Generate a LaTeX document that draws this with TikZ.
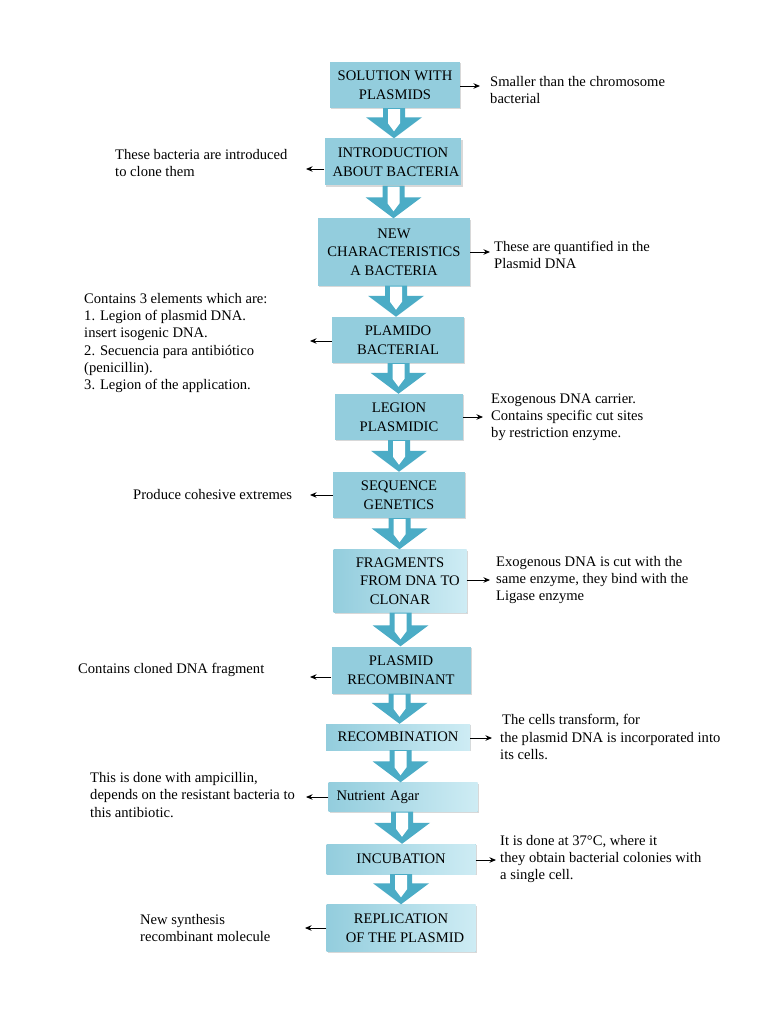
\documentclass[tikz,border=0pt]{standalone}
\usepackage{fontspec}
\setmainfont{Liberation Serif}
\usetikzlibrary{arrows, arrows.meta, calc, shadows}
\definecolor{boxblue}{RGB}{147,205,221}
\definecolor{boxlight}{RGB}{206,236,244}
\definecolor{arrowblue}{RGB}{75,172,198}
\tikzstyle{stage} = [rectangle, fill=boxblue, draw=none, align=center, inner sep=2pt, font=\fontsize{14.6}{18.5}\selectfont, drop shadow={shadow xshift=1.2pt, shadow yshift=-1.2pt, opacity=0.3}]
\tikzstyle{glossy} = [stage, left color=boxblue, right color=boxlight]
\tikzstyle{note} = [inner sep=0pt, align=left, anchor=west, font=\fontsize{14.6}{17.2}\selectfont]
\tikzstyle{sidearrow} = [-{Stealth[length=6.5pt, width=5.5pt]}, line width=0.9pt]
\newcommand{\flowarrow}[2]{%
  \fill[arrowblue] let \p1=(#1.south), \p2=(#2.north), \p3=($(#1.south)!0.5!(#2.north)$) in
    ({\x3-11pt},\y1) -- ({\x3+11pt},\y1) -- ({\x3+11pt},\y2+21pt) -- ({\x3+28pt},\y2+21pt)
    -- (\x3,\y2) -- ({\x3-28pt},\y2+21pt) -- ({\x3-11pt},\y2+21pt) -- cycle;
  \fill[white] let \p1=(#1.south), \p2=(#2.north), \p3=($(#1.south)!0.5!(#2.north)$) in
    ({\x3-6pt},\y1-1pt) -- ({\x3+6pt},\y1-1pt) -- ({\x3+6pt},\y2+15pt)
    -- (\x3,\y2+7pt) -- ({\x3-6pt},\y2+15pt) -- cycle;
}

\begin{document}
\begin{tikzpicture}[x=1pt, y=-1pt]
	\fill[white] (0,0) rectangle (768,1024);
	\useasboundingbox (0,0) rectangle (768,1024);
	% stages
	\node(b1) [stage, minimum width=130pt, minimum height=46pt] at (395,85) {SOLUTION WITH\\PLASMIDS};
	\node(b2) [stage, minimum width=134pt, minimum height=47pt] at (393,162) {INTRODUCTION\\\hspace*{6pt}ABOUT BACTERIA};
	\node(b3) [stage, minimum width=152pt, minimum height=67pt] at (394,252) {NEW\\CHARACTERISTICS\\A BACTERIA};
	\node(b4) [stage, minimum width=132pt, minimum height=46pt] at (398,340) {PLAMIDO\\BACTERIAL};
	\node(b5) [stage, minimum width=128pt, minimum height=46pt] at (399,417) {LEGION\\PLASMIDIC};
	\node(b6) [stage, minimum width=132pt, minimum height=46pt] at (399,495) {SEQUENCE\\GENETICS};
	\node(b7) [glossy, minimum width=133pt, minimum height=63pt] at (400,581) {FRAGMENTS\\\hspace*{20pt}FROM DNA TO\\CLONAR};
	\node(b8) [stage, minimum width=139pt, minimum height=47pt] at (401,670) {PLASMID\\RECOMBINANT};
	\node(b9) [glossy, minimum width=144pt, minimum height=26pt] at (398,737) {RECOMBINATION};
	\node(b10) [glossy, minimum width=149pt, minimum height=29pt, text width=133pt, align=left] at (403,797) {Nutrient Agar};
	\node(b11) [glossy, minimum width=149pt, minimum height=30pt] at (401,859) {INCUBATION};
	\node(b12) [glossy, minimum width=149pt, minimum height=47pt] at (401,928) {REPLICATION\\\hspace*{8pt}OF THE PLASMID};
	\foreach \a/\b in {b1/b2, b2/b3, b3/b4, b4/b5, b5/b6, b6/b7, b7/b8, b8/b9, b9/b10, b10/b11, b11/b12}
		\flowarrow{\a}{\b};
	% notes
	\node(n1) [note] at (490,90) {Smaller than the chromosome\\bacterial};
	\node(n2) [note] at (115,163) {These bacteria are introduced\\to clone them};
	\node(n3) [note] at (494,255) {These are quantified in the\\Plasmid DNA};
	\node(n4) [note] at (84,343) {Contains 3 elements which are:\\1. Legion of plasmid DNA.\\insert isogenic DNA.\\2. Secuencia para antibiótico\\(penicillin).\\3. Legion of the application.};
	\node(n5) [note] at (491,417) {Exogenous DNA carrier.\\Contains specific cut sites\\by restriction enzyme.};
	\node(n6) [note] at (133,495) {Produce cohesive extremes};
	\node(n7) [note] at (496,580) {Exogenous DNA is cut with the\\same enzyme, they bind with the\\Ligase enzyme};
	\node(n8) [note] at (78,670) {Contains cloned DNA fragment};
	\node(n9) [note] at (500,737) {\hspace*{2pt}The cells transform, for\\the plasmid DNA is incorporated into\\its cells.};
	\node(n10) [note] at (90,795) {This is done with ampicillin,\\depends on the resistant bacteria to\\this antibiotic.};
	\node(n11) [note] at (500,859) {It is done at 37°C, where it\\they obtain bacterial colonies with\\a single cell.};
	\node(n12) [note] at (140,928) {New synthesis\\recombinant molecule};
	% arrow tips
	\coordinate(t1) at (480,86);
	\coordinate(t2) at (306,169);
	\coordinate(t3) at (490,252);
	\coordinate(t4) at (310,341);
	\coordinate(t5) at (483,417);
	\coordinate(t6) at (310,495);
	\coordinate(t7) at (490,580);
	\coordinate(t8) at (310,677);
	\coordinate(t9) at (492,738);
	\coordinate(t10) at (306,797);
	\coordinate(t11) at (496,860);
	\coordinate(t12) at (305,928);
	\draw [sidearrow] (b1.east |- t1) -- (t1);
	\draw [sidearrow] (b2.west |- t2) -- (t2);
	\draw [sidearrow] (b3.east |- t3) -- (t3);
	\draw [sidearrow] (b4.west |- t4) -- (t4);
	\draw [sidearrow] (b5.east |- t5) -- (t5);
	\draw [sidearrow] (b6.west |- t6) -- (t6);
	\draw [sidearrow] (b7.east |- t7) -- (t7);
	\draw [sidearrow] (b8.west |- t8) -- (t8);
	\draw [sidearrow] (b9.east |- t9) -- (t9);
	\draw [sidearrow] (b10.west |- t10) -- (t10);
	\draw [sidearrow] (b11.east |- t11) -- (t11);
	\draw [sidearrow] (b12.west |- t12) -- (t12);
\end{tikzpicture}
\end{document}
